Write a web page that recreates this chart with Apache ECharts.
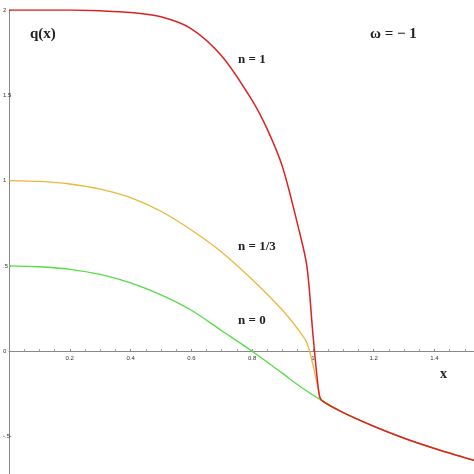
<!DOCTYPE html><html><head><meta charset="utf-8"><script src="https://cdn.jsdelivr.net/npm/echarts@6/dist/echarts.min.js"></script></head><body style="margin:0"><div id="c" style="width:474px;height:474px"></div><script>
const xTicks=[0.2,0.4,0.6,0.8,1,1.2,1.4];
const n0=[[0,0.5],[0.1,0.495],[0.2,0.48],[0.3,0.45],[0.4,0.4],[0.5,0.33],[0.6,0.24],[0.7,0.12],[0.8,0],[0.9,-0.13],[0.96,-0.21],[1.03,-0.29],[1.1,-0.36],[1.2,-0.44],[1.3,-0.51],[1.4,-0.57],[1.53,-0.64]];
const n13=[[0,1],[0.1,0.995],[0.2,0.98],[0.3,0.95],[0.4,0.9],[0.5,0.82],[0.6,0.71],[0.7,0.58],[0.8,0.42],[0.9,0.24],[0.95,0.13],[0.98,0.05],[1.0,-0.08],[1.02,-0.24],[1.03,-0.29],[1.1,-0.36],[1.2,-0.44],[1.3,-0.51],[1.4,-0.57],[1.53,-0.64]];
const n1=[[0,2],[0.2,2],[0.3,1.995],[0.4,1.985],[0.5,1.96],[0.6,1.89],[0.7,1.73],[0.8,1.47],[0.85,1.3],[0.9,1.08],[0.95,0.74],[0.98,0.5],[1.0,0.1],[1.02,-0.25],[1.03,-0.29],[1.1,-0.36],[1.2,-0.44],[1.3,-0.51],[1.4,-0.57],[1.53,-0.64]];
const yTickLabels={'2':'2','1.5':'1.5','1':'1','0.5':'.5','0':'0','-0.5':'-.5'};
const ch=echarts.init(document.getElementById('c'));
const tf='bold 13px "Liberation Serif"';
ch.setOption({animation:false,
grid:{left:7,right:0,top:10,bottom:0},
xAxis:{type:'value',min:0,max:1.53,interval:0.2,position:'bottom',offset:-123,axisLine:{onZero:false,lineStyle:{color:'#888'}},splitLine:{show:false},
 axisTick:{show:true,length:2,inside:true},minorTick:{show:true,splitNumber:4,length:2,lineStyle:{color:'#aaa'}},
 axisLabel:{fontSize:6,color:'#333',margin:4,customValues:xTicks,formatter:v=>v==0?'':String(v)}},
yAxis:{type:'value',min:-0.72,max:2,axisLine:{show:true,onZero:false,lineStyle:{color:'#888'}},splitLine:{show:false},
 axisTick:{show:true,inside:true,length:2,customValues:[2,1.5,1,0.5,0,-0.5]},minorTick:{show:false},
 axisLabel:{inside:true,fontSize:6,color:'#333',margin:-6,customValues:[2,1.5,1,0.5,0,-0.5],formatter:v=>yTickLabels[String(v)]||''}},
series:[
{type:'line',data:n0,smooth:0.3,showSymbol:false,lineStyle:{color:'#55dd44',width:1.3}},
{type:'line',data:n13,smooth:0.3,showSymbol:false,lineStyle:{color:'#e8b83a',width:1.3}},
{type:'line',data:n1,smooth:0.3,showSymbol:false,lineStyle:{color:'#dd2222',width:1.5}}],
graphic:[
{type:'text',left:30,top:27,style:{text:'q(x)',font:'bold 15px "Liberation Serif"',fill:'#222'}},
{type:'text',left:370,top:27,style:{text:'ω = − 1',font:'bold 15px "Liberation Serif"',fill:'#222'}},
{type:'text',left:238,top:53,style:{text:'n = 1',font:tf,fill:'#222'}},
{type:'text',left:238,top:240,style:{text:'n = 1/3',font:tf,fill:'#222'}},
{type:'text',left:238,top:314,style:{text:'n = 0',font:tf,fill:'#222'}},
{type:'text',left:440,top:367,style:{text:'x',font:'bold 14px "Liberation Serif"',fill:'#222'}}]
});
</script></body></html>
